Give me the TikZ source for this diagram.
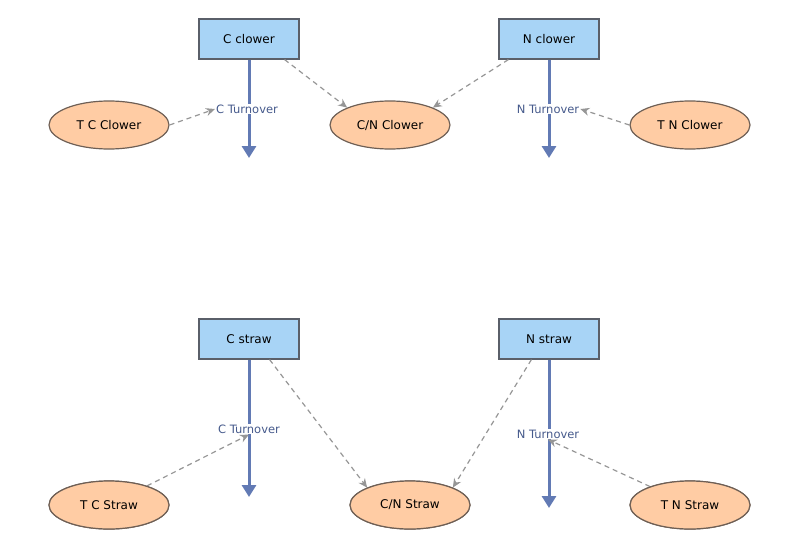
\documentclass[tikz,border=0pt]{standalone}
\usepackage{fontspec}
\setmainfont{DejaVu Sans}
\usetikzlibrary{arrows.meta,shapes.geometric}
\definecolor{boxfill}{RGB}{168,212,246}
\definecolor{boxline}{RGB}{90,95,105}
\definecolor{ellfill}{RGB}{255,204,164}
\definecolor{ellline}{RGB}{110,95,85}
\definecolor{flowc}{RGB}{98,122,180}
\definecolor{dash}{RGB}{150,150,150}
\definecolor{lbl}{RGB}{70,90,140}
\begin{document}
\begin{tikzpicture}[x=1pt,y=-1pt,
  stock/.style={draw=boxline,line width=1.2pt,fill=boxfill,minimum width=100pt,minimum height=40pt,inner sep=0pt,font=\fontsize{12}{14}\selectfont},
  aux/.style={ellipse,draw=ellline,line width=1.2pt,fill=ellfill,minimum width=120pt,minimum height=48pt,inner sep=0pt,font=\fontsize{12}{14}\selectfont},
  flow/.style={draw=flowc,line width=3pt,-{Triangle[length=12pt,width=14pt]}},
  valve/.style={fill=white,inner sep=1pt,text=lbl,font=\fontsize{11.5}{13}\selectfont},
  link/.style={draw=dash,line width=1.2pt,dash pattern=on 5pt off 4pt,-{Stealth[length=9pt,width=8pt]}}]
\useasboundingbox (0,0) rectangle (800,549);
% top
\node[stock] (cc) at (249,39) {C clower};
\node[stock] (nc) at (549,39) {N clower};
\coordinate (cce) at (249,158);
\coordinate (nce) at (549,158);
\draw[flow] (cc) -- (cce);
\draw[flow] (nc) -- (nce);
\node[valve] (ct1) at (247,109) {C Turnover};
\node[valve] (nt1) at (548,109) {N Turnover};
\node[aux] (tcc) at (109,125) {T C Clower};
\node[aux] (cnc) at (390,125) {C/N Clower};
\node[aux] (tnc) at (690,125) {T N Clower};
\draw[link] (cc.south east) ++(-15,0) -- (cnc.north west);
\draw[link] (nc.south west) ++(10,0) -- (cnc.north east);
\draw[link] (tcc.east) -- (ct1.west);
\draw[link] (tnc.west) -- (nt1.east);
% bottom
\node[stock] (cs) at (249,339) {C straw};
\node[stock] (ns) at (549,339) {N straw};
\coordinate (cse) at (249,497);
\coordinate (nse) at (549,508);
\draw[flow] (cs) -- (cse);
\draw[flow] (ns) -- (nse);
\node[valve] (ct2) at (249,429) {C Turnover};
\node[valve] (nt2) at (548,434) {N Turnover};
\node[aux] (tcs) at (109,505) {T C Straw};
\node[aux] (cns) at (410,505) {C/N Straw};
\node[aux] (tns) at (690,505) {T N Straw};
\draw[link] (cs.south east) ++(-30,0) -- (cns.north west);
\draw[link] (ns.south west) ++(33,0) -- (cns.north east);
\draw[link] (tcs) -- (ct2.south);
\draw[link] (tns) -- (nt2.south);
% redraw nodes on top of links
\node[aux] at (tcs) {T C Straw};
\node[aux] at (tns) {T N Straw};
\node[aux] at (cns) {C/N Straw};
\end{tikzpicture}
\end{document}
